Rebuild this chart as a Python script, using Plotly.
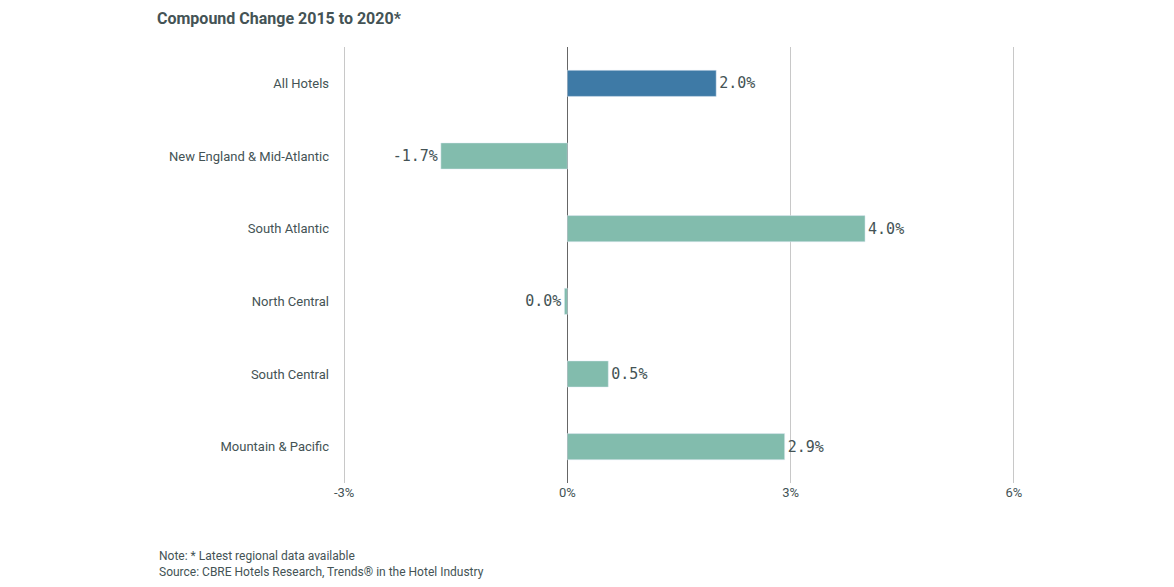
import plotly.graph_objects as go

regions = ["All Hotels", "New England & Mid-Atlantic", "South Atlantic",
           "North Central", "South Central", "Mountain & Pacific"]
change = [2.0, -1.7, 4.0, -0.04, 0.55, 2.92]
labels = ["2.0%", "-1.7%", "4.0%", "0.0%", "0.5%", "2.9%"]
bar_colors = ["#3e7aa6", "#82bcad", "#82bcad", "#82bcad", "#82bcad", "#82bcad"]
tick_vals = [-3, 0, 3, 6]
tick_text = ["-3%", "0%", "3%", "6%"]

text_color = "#445355"

fig = go.Figure()
fig.add_trace(go.Bar(
    y=regions, x=change, orientation="h",
    marker=dict(color=bar_colors),
    width=0.36,
    text=labels, textposition="outside", cliponaxis=False,
    textfont=dict(family="DejaVu Sans Mono", size=15, color=text_color),
))

fig.update_layout(
    width=1174, height=587,
    plot_bgcolor="white", paper_bgcolor="white",
    margin=dict(l=335, r=167, t=39, b=112),
    showlegend=False,
    font=dict(family="Roboto", size=13, color=text_color),
    title=dict(text="<b>Compound Change 2015 to 2020*</b>", x=149/1174, xanchor="left",
               y=1 - 10/587, yanchor="middle", pad=dict(l=0, t=0),
               font=dict(size=16, color=text_color)),
    xaxis=dict(range=[-3.015, 6.015], tickvals=tick_vals, ticktext=tick_text,
               showgrid=True, gridcolor="#c8c8c8", gridwidth=1,
               zeroline=True, zerolinecolor="#666666", zerolinewidth=1,
               ticks="", ticklen=0, tickfont=dict(size=13)),
    yaxis=dict(autorange="reversed", showgrid=False, ticks="",
               ticklabelstandoff=13, tickfont=dict(size=13)),
    annotations=[
        dict(text="Note: * Latest regional data available<br>Source: CBRE Hotels Research, Trends® in the Hotel Industry",
             x=-0.2768, xref="paper", xanchor="left", y=-0.147, yref="paper", yanchor="top",
             align="left", showarrow=False, font=dict(size=12, color=text_color)),
    ],
)

fig.write_html("out.html")
